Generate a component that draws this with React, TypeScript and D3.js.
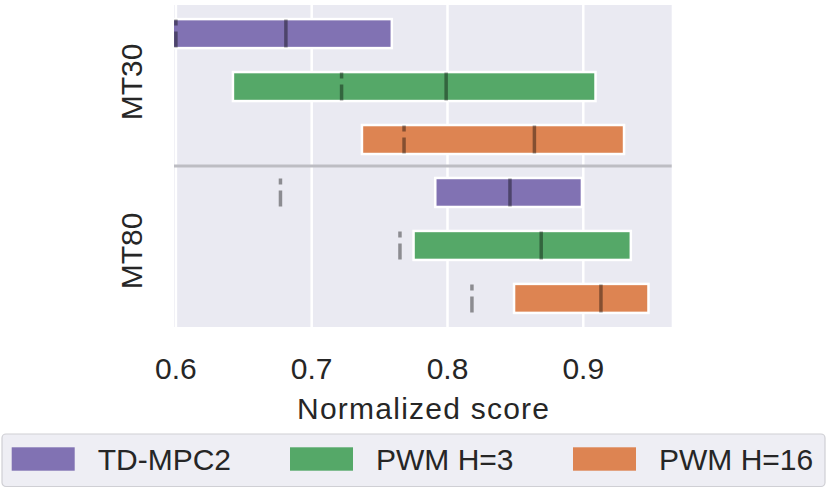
import React from "react";
import * as d3 from "d3";

// rows top to bottom: MT30 (3 methods), then MT80 (3 methods)
const groups = ["MT30", "MT80"];
const methods = ["TD-MPC2", "PWM H=3", "PWM H=16"];
const colors = ["#8172b3", "#55a868", "#dd8452"];

const mt30Low = [0.59, 0.642, 0.737];
const mt30High = [0.759, 0.909, 0.93];
const mt30Median = [0.681, 0.799, 0.864];
const mt30Ref = [0.6, 0.722, 0.768];

const mt80Low = [0.791, 0.775, 0.849];
const mt80High = [0.899, 0.935, 0.948];
const mt80Median = [0.846, 0.869, 0.913];
const mt80Ref = [0.677, 0.765, 0.818];

const xTicks = [0.6, 0.7, 0.8, 0.9];

const W = 828;
const H = 492;
const plot = { left: 174, right: 671.7, top: 5, bottom: 327 };
const font = "'Liberation Sans', Arial, sans-serif";
const textColor = "#262626";

export default function App() {
  const x = d3.scaleLinear().domain([0.5986, 0.9651]).range([plot.left, plot.right]);

  const rows = groups.flatMap((g, gi) =>
    methods.map((m, mi) => ({
      key: `${g}-${m}`,
      color: colors[mi],
      low: gi === 0 ? mt30Low[mi] : mt80Low[mi],
      high: gi === 0 ? mt30High[mi] : mt80High[mi],
      median: gi === 0 ? mt30Median[mi] : mt80Median[mi],
      ref: gi === 0 ? mt30Ref[mi] : mt80Ref[mi],
    }))
  );

  const y = d3
    .scalePoint<string>()
    .domain(rows.map(r => r.key))
    .range([plot.top, plot.bottom])
    .padding(0.54);

  const barH = 29;
  const markH = 28;
  const sepY = (plot.top + plot.bottom) / 2;

  return (
    <svg
      width={W}
      height={H}
      style={{ position: "absolute", left: 0, top: 0, background: "#fff" }}
      fontFamily={font}
    >
      <defs>
        <clipPath id="plotClip">
          <rect x={plot.left} y={plot.top} width={plot.right - plot.left} height={plot.bottom - plot.top} />
        </clipPath>
      </defs>

      <rect
        x={plot.left}
        y={plot.top}
        width={plot.right - plot.left}
        height={plot.bottom - plot.top}
        fill="#eaeaf2"
      />

      {/* gridlines */}
      {xTicks.map(t => (
        <line key={t} x1={x(t)} x2={x(t)} y1={plot.top} y2={plot.bottom} stroke="#fff" strokeWidth={2.5} />
      ))}

      <line x1={plot.left} x2={plot.right} y1={sepY} y2={sepY} stroke="#bdbdc3" strokeWidth={3} />

      <g clipPath="url(#plotClip)">
        {rows.map(r => {
          const cy = y(r.key)!;
          return (
            <g key={r.key}>
              <rect
                x={x(r.low)}
                y={cy - barH / 2}
                width={x(r.high) - x(r.low)}
                height={barH}
                fill={r.color}
                stroke="#fff"
                strokeWidth={2.5}
              />
              <line
                x1={x(r.median)}
                x2={x(r.median)}
                y1={cy - markH / 2}
                y2={cy + markH / 2}
                stroke="rgba(0,0,0,0.4)"
                strokeWidth={3.5}
              />
              <line
                x1={x(r.ref)}
                x2={x(r.ref)}
                y1={cy + markH / 2}
                y2={cy - markH / 2}
                stroke="rgba(0,0,0,0.4)"
                strokeWidth={3.5}
                strokeDasharray="16,6"
              />
            </g>
          );
        })}
      </g>

      {/* x tick labels */}
      {xTicks.map(t => (
        <text key={t} x={x(t)} y={379} textAnchor="middle" fontSize={30} fill={textColor}>
          {t.toFixed(1)}
        </text>
      ))}
      <text
        x={(296.7 + 549.3) / 2}
        y={419}
        textAnchor="middle"
        fontSize={30}
        fill={textColor}
        textLength={252}
        lengthAdjust="spacing"
      >
        Normalized score
      </text>

      {/* group labels */}
      {groups.map((g, gi) => (
        <text
          key={g}
          transform={`translate(142, ${gi === 0 ? 82 : 251}) rotate(-90)`}
          textAnchor="middle"
          fontSize={30}
          fill={textColor}
        >
          {g}
        </text>
      ))}

      {/* legend */}
      <rect x={2} y={434} width={823} height={52.5} rx={4} fill="#eeeef4" stroke="#cfcfd4" strokeWidth={1.2} />
      {methods.map((m, i) => {
        const px = [11.7, 290, 573][i];
        return (
          <g key={m}>
            <rect x={px} y={447.3} width={63} height={23.4} fill={colors[i]} />
            <text x={px + 86} y={470} fontSize={30} fill={textColor}>
              {m}
            </text>
          </g>
        );
      })}
    </svg>
  );
}
